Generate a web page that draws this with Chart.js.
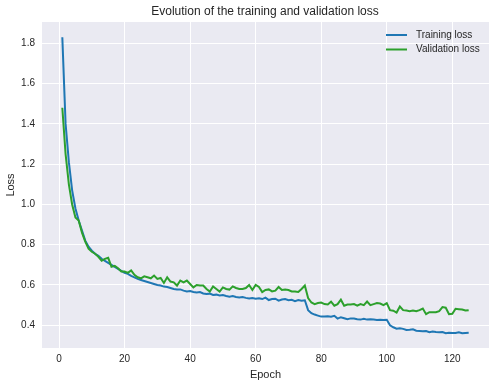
<!DOCTYPE html>
<html lang="en">
<head>
    <meta charset="UTF-8">
    <title>Training and validation loss</title>
    <style>
        body { margin: 0; background: #fff; }
        #wrap { width: 495px; height: 386px; }
    </style>
    <script src="https://cdn.jsdelivr.net/npm/chart.js"></script>
</head>
<body>
<div id="wrap"><canvas id="lossChart" width="495" height="386"></canvas></div>
<script>
    const epochs = Array.from({length: 125}, (_, i) => i + 1);

    const trainingLoss = [
        1.83, 1.40, 1.21, 1.07, 0.98, 0.92, 0.87, 0.82, 0.79, 0.77,
        0.755, 0.745, 0.73, 0.72, 0.71, 0.70, 0.69, 0.68, 0.67, 0.66,
        0.655, 0.645, 0.638, 0.63, 0.625, 0.62, 0.615, 0.61, 0.605, 0.60,
        0.597, 0.592, 0.59, 0.585, 0.58, 0.578, 0.578, 0.572, 0.568, 0.57,
        0.565, 0.563, 0.565, 0.558, 0.555, 0.557, 0.55, 0.552, 0.548, 0.55,
        0.545, 0.542, 0.545, 0.54, 0.538, 0.54, 0.536, 0.533, 0.535, 0.532,
        0.534, 0.53, 0.537, 0.525, 0.53, 0.532, 0.522, 0.528, 0.53, 0.524,
        0.526, 0.52, 0.525, 0.522, 0.524, 0.475, 0.46, 0.453, 0.448, 0.443,
        0.443, 0.445, 0.442, 0.447, 0.433, 0.44, 0.435, 0.43, 0.434, 0.433,
        0.43, 0.428, 0.432, 0.428, 0.43, 0.428, 0.426, 0.427, 0.426, 0.427,
        0.40, 0.39, 0.383, 0.385, 0.382, 0.377, 0.378, 0.38, 0.373, 0.372,
        0.37, 0.371, 0.365, 0.369, 0.366, 0.365, 0.366, 0.36, 0.363, 0.362,
        0.362, 0.365, 0.36, 0.362, 0.363
    ];

    const validationLoss = [
        1.48, 1.25, 1.10, 1.00, 0.935, 0.92, 0.86, 0.815, 0.78, 0.765,
        0.755, 0.74, 0.72, 0.73, 0.735, 0.69, 0.695, 0.683, 0.667, 0.667,
        0.66, 0.672, 0.65, 0.638, 0.633, 0.643, 0.638, 0.633, 0.647, 0.63,
        0.635, 0.61, 0.638, 0.617, 0.613, 0.597, 0.622, 0.613, 0.622, 0.605,
        0.588, 0.60, 0.597, 0.597, 0.58, 0.567, 0.593, 0.58, 0.567, 0.588,
        0.58, 0.577, 0.593, 0.585, 0.58, 0.58, 0.585, 0.60, 0.575, 0.60,
        0.59, 0.565, 0.575, 0.578, 0.568, 0.572, 0.59, 0.575, 0.577, 0.575,
        0.568, 0.567, 0.565, 0.58, 0.597, 0.535, 0.513, 0.505, 0.51, 0.513,
        0.505, 0.503, 0.517, 0.497, 0.505, 0.527, 0.497, 0.503, 0.503, 0.505,
        0.497, 0.505, 0.50, 0.518, 0.50, 0.505, 0.51, 0.508, 0.50, 0.51,
        0.475, 0.472, 0.463, 0.493, 0.475, 0.473, 0.47, 0.473, 0.47, 0.475,
        0.483, 0.455, 0.465, 0.465, 0.465, 0.47, 0.49, 0.487, 0.455, 0.457,
        0.482, 0.48, 0.478, 0.473, 0.475
    ];

    const xTicks = [0, 20, 40, 60, 80, 100, 120];
    const yTicks = [0.4, 0.6, 0.8, 1.0, 1.2, 1.4, 1.6, 1.8];

    const seriesNames = ['Training loss', 'Validation loss'];
    const seriesColors = ['#1f77b4', '#2ca02c'];

    const FONT = '"Liberation Sans", Arial, sans-serif';
    const TEXT = '#262626';

    // grey panel behind the plot, seaborn darkgrid look
    const panelBg = {
        id: 'panelBg',
        beforeDraw(chart) {
            const {ctx, chartArea: a} = chart;
            ctx.save();
            ctx.fillStyle = '#eaeaf2';
            ctx.fillRect(a.left, a.top, a.right - a.left, a.bottom - a.top);
            ctx.restore();
        }
    };

    // title + legend drawn by hand so they sit where matplotlib put them
    const decorations = {
        id: 'decorations',
        afterDraw(chart) {
            const ctx = chart.ctx;
            ctx.save();
            ctx.fillStyle = TEXT;
            ctx.font = '12px ' + FONT;
            ctx.textAlign = 'center';
            ctx.textBaseline = 'middle';
            ctx.fillText('Evolution of the training and validation loss', 265, 12);

            ctx.font = '10px ' + FONT;
            ctx.textAlign = 'left';
            seriesNames.forEach((name, i) => {
                const y = 35 + i * 14.5;
                ctx.strokeStyle = seriesColors[i];
                ctx.lineWidth = 2;
                ctx.beginPath();
                ctx.moveTo(386, y);
                ctx.lineTo(407, y);
                ctx.stroke();
                ctx.fillStyle = TEXT;
                ctx.fillText(name, 416, y);
            });
            ctx.restore();
        }
    };

    function onLoad() {
        const ctx = document.getElementById('lossChart').getContext('2d');
        new Chart(ctx, {
            type: 'line',
            data: {
                datasets: [{
                    label: seriesNames[0],
                    data: epochs.map((e, i) => ({x: e, y: trainingLoss[i]})),
                    borderColor: seriesColors[0],
                    borderWidth: 2,
                    pointRadius: 0,
                    fill: false,
                    order: 1
                }, {
                    label: seriesNames[1],
                    data: epochs.map((e, i) => ({x: e, y: validationLoss[i]})),
                    borderColor: seriesColors[1],
                    borderWidth: 2,
                    pointRadius: 0,
                    fill: false,
                    order: 0
                }]
            },
            options: {
                responsive: false,
                animation: false,
                layout: {padding: {top: 22, right: 6, left: 0, bottom: 0}},
                plugins: {
                    legend: {display: false},
                    title: {display: false},
                    tooltip: {enabled: false}
                },
                scales: {
                    x: {
                        type: 'linear',
                        min: -5.2,
                        max: 131.2,
                        afterBuildTicks: scale => { scale.ticks = xTicks.map(v => ({value: v})); },
                        afterFit: scale => { scale.height = 38; },
                        grid: {color: '#ffffff', lineWidth: 1, drawTicks: false},
                        border: {display: false},
                        ticks: {color: TEXT, font: {family: FONT, size: 10}, padding: 5, maxRotation: 0},
                        title: {display: true, text: 'Epoch', color: TEXT, font: {family: FONT, size: 11}, padding: {top: 1}}
                    },
                    y: {
                        min: 0.287,
                        max: 1.906,
                        afterBuildTicks: scale => { scale.ticks = yTicks.map(v => ({value: v})); },
                        afterFit: scale => { scale.width = 42; },
                        grid: {color: '#ffffff', lineWidth: 1, drawTicks: false},
                        border: {display: false},
                        ticks: {color: TEXT, font: {family: FONT, size: 10}, padding: 7,
                            callback: v => v.toFixed(1)},
                        title: {display: true, text: 'Loss', color: TEXT, font: {family: FONT, size: 11}, padding: {bottom: 2}}
                    }
                }
            },
            plugins: [panelBg, decorations]
        });
    }

    window.onload = onLoad;
</script>
</body>
</html>
